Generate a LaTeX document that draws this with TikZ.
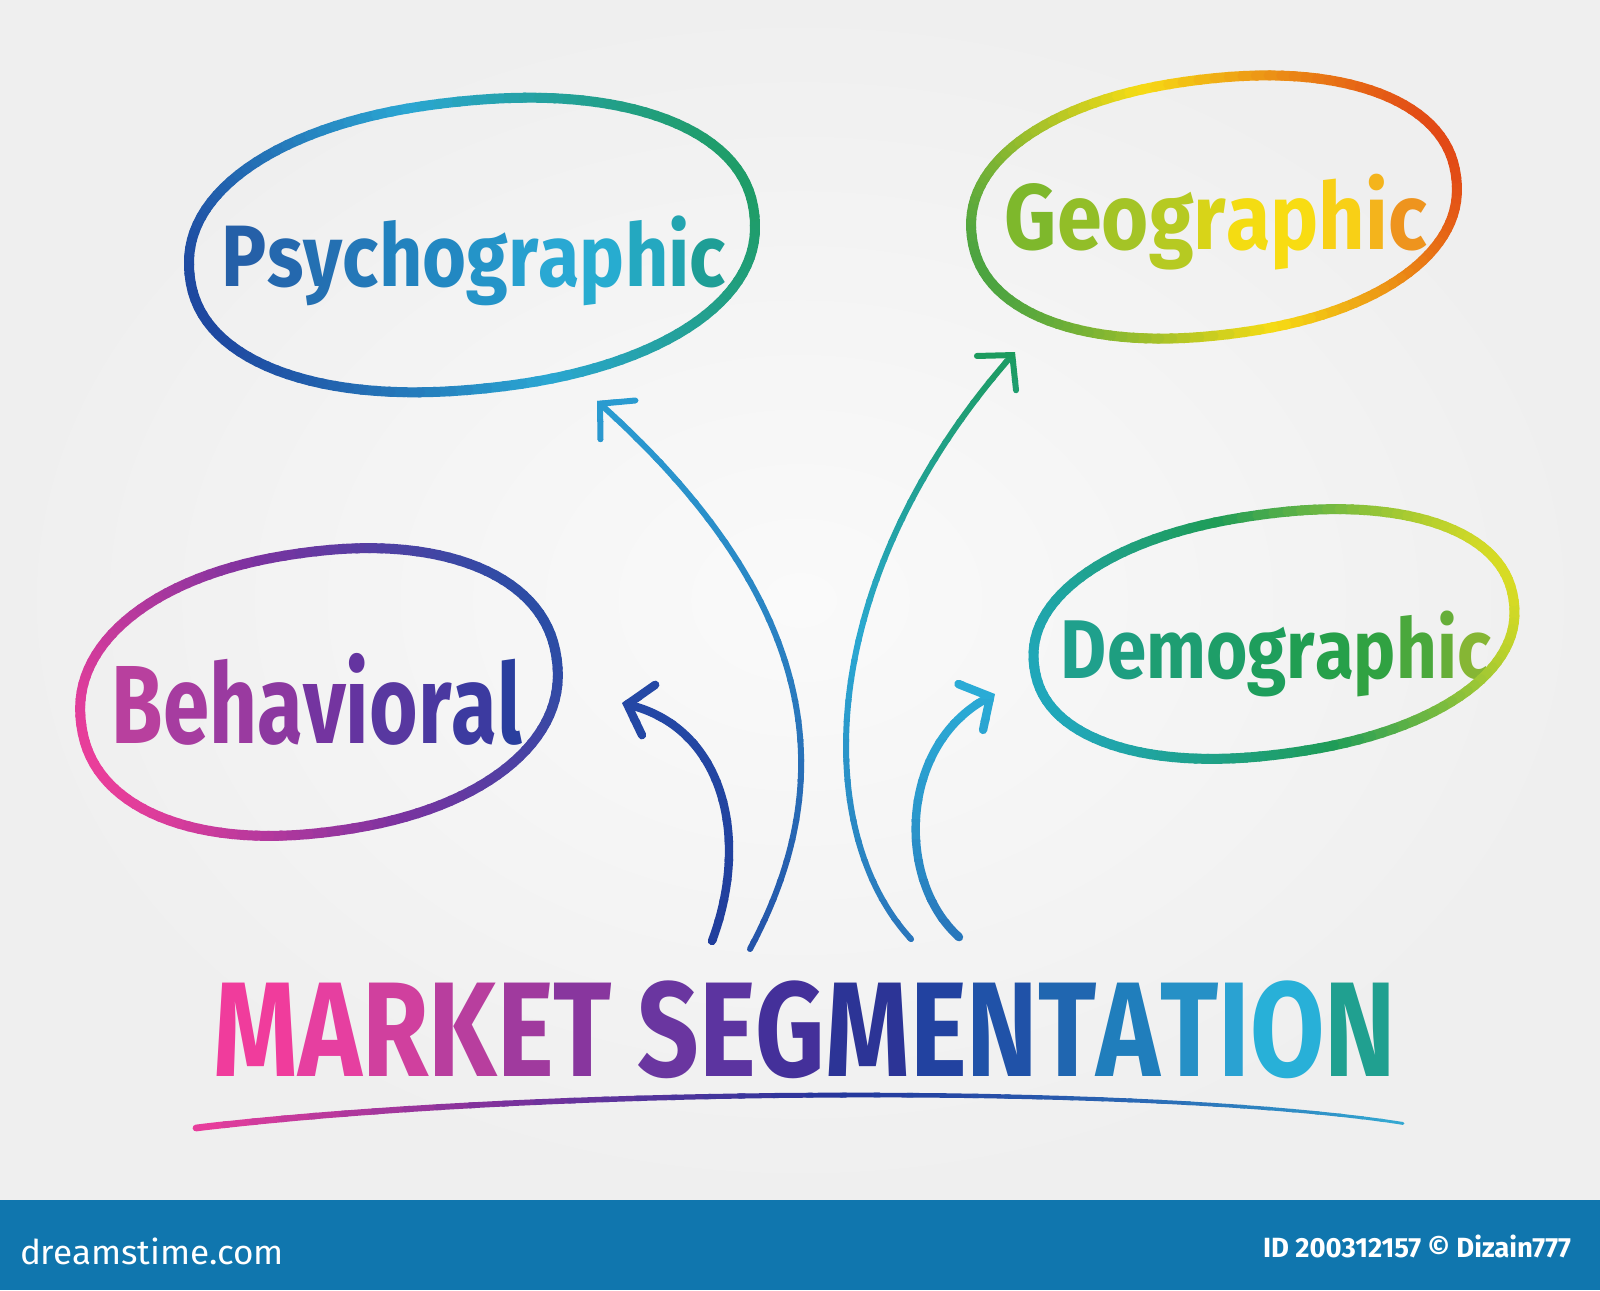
\documentclass[tikz,border=0pt]{standalone}
\usepackage{fontspec}
\setmainfont{Fira Sans}
\usepackage{graphicx}
\usetikzlibrary{arrows.meta}

\definecolor{barblue}{RGB}{16,118,174}
\definecolor{bgout}{HTML}{EFEFEF}
\definecolor{bgin}{HTML}{FAFAFA}
\definecolor{ulA}{HTML}{EC3E9C}
\definecolor{ulB}{HTML}{7C329C}
\definecolor{ulC}{HTML}{24369C}
\definecolor{ulD}{HTML}{2A6CB6}
\definecolor{ulE}{HTML}{34AAD2}

\newcommand\colL[2]{\textcolor[HTML]{#1}{#2}}
\newcommand\setgrad[3]{\definecolor{gA}{HTML}{#1}\definecolor{gB}{HTML}{#2}\definecolor{gC}{HTML}{#3}}

% mix three colours: s in [0,1] -> segc
\newcommand\mixthree[4]{%
  \pgfmathsetmacro\mts{max(0,min(1,#1))}%
  \pgfmathtruncatemacro\mtflag{\mts<0.5 ? 1 : 0}%
  \ifnum\mtflag=1
    \pgfmathsetmacro\mtp{200*\mts}\colorlet{segc}{#3!\mtp!#2}%
  \else
    \pgfmathsetmacro\mtp{200*(\mts-0.5)}\colorlet{segc}{#4!\mtp!#3}%
  \fi}

% slightly squarish ellipse terms
\pgfmathdeclarefunction{sc}{1}{\pgfmathparse{cos(#1)/(abs(cos(#1))+0.001)^0.08}}
\pgfmathdeclarefunction{ss}{1}{\pgfmathparse{sin(#1)/(abs(sin(#1))+0.001)^0.08}}

% gradient ellipse outline: cx cy rx ry phi x0 y0 x1 y1 (colours gA gB gC)
\newcommand\gradellipse[9]{%
  \pgfmathsetmacro\gdx{(#8-#6)/100}%
  \pgfmathsetmacro\gdy{(#9-#7)/100}%
  \pgfmathsetmacro\gdd{\gdx*\gdx+\gdy*\gdy}%
  \foreach \a in {0,3,...,357}{%
    \pgfmathsetmacro\am{\a+1.5}%
    \pgfmathsetmacro\px{#1+#3*sc(\am)*cos(#5)-#4*ss(\am)*sin(#5)}%
    \pgfmathsetmacro\py{#2+#3*sc(\am)*sin(#5)+#4*ss(\am)*cos(#5)}%
    \pgfmathsetmacro\sv{((\px-#6)/100*\gdx+(\py-#7)/100*\gdy)/\gdd}%
    \mixthree{\sv}{gA}{gB}{gC}%
    \draw[segc, ring] plot[domain=\a:\a+3.4, samples=4, variable=\t]
      ({#1+#3*sc(\t)*cos(#5)-#4*ss(\t)*sin(#5)},{#2+#3*sc(\t)*sin(#5)+#4*ss(\t)*cos(#5)});
  }}

% gradient connector by horizontal bands: top y, bottom y, style, path
\newcommand\bandarrow[4]{%
  \pgfmathtruncatemacro\nb{(#2-#1)/20}%
  \foreach \k in {1,...,\nb}{%
    \pgfmathsetmacro\yy{#1+(\k-1)*20}%
    \pgfmathsetmacro\sv{(#2-\yy-10)/(#2-#1)}%
    \mixthree{\sv}{gA}{gB}{gC}%
    \begin{scope}
      \clip (0,\yy-1) rectangle (1600,\yy+21);
      \draw[#3, segc] #4;
    \end{scope}
  }}

\tikzset{
  ring/.style={line width=5pt, line cap=round},
  thinarrow/.style={line width=3pt, line cap=round,
    -{Straight Barb[length=12pt, width=26pt, line cap=round]}},
  thickarrow/.style={line width=4.2pt, line cap=round,
    -{Straight Barb[length=11pt, width=26pt, line cap=round]}},
  lbl/.style={inner sep=0pt, outer sep=0pt},
}

\begin{document}
\begin{tikzpicture}[x=0.5pt, y=-0.5pt]
\useasboundingbox (0,0) rectangle (1600,1290);
% background
\shade[inner color=bgin, outer color=bgout] (0,0) rectangle (1600,1200);
\fill[barblue] (0,1200) rectangle (1600,1290);

% ---- labels ----
\node[lbl] (psy) at (474,261) {\resizebox*{252pt}{45pt}{\bfseries\colL{2560A8}{P}\colL{2468AE}{s}\colL{2470B2}{y}\colL{2478B8}{c}\colL{2282BE}{h}\colL{2288C2}{o}\colL{2494C8}{g}\colL{27A0CF}{r}\colL{29A8D3}{a}\colL{27ACD0}{p}\colL{24A8C0}{h}\colL{22A4B0}{i}\colL{1E9E96}{c}}};
\node[lbl] (geo) at (1216,222) {\resizebox*{211pt}{48pt}{\bfseries\colL{7EB82C}{G}\colL{92BE28}{e}\colL{A4C426}{o}\colL{B6CA22}{g}\colL{D8D418}{r}\colL{F4DC12}{a}\colL{F8DC12}{p}\colL{F8D016}{h}\colL{F4B41C}{i}\colL{EE941E}{c}}};
\node[lbl] (beh) at (317,699) {\resizebox*{205pt}{46pt}{\bfseries\colL{B8409E}{B}\colL{A63CA0}{e}\colL{9A3AA0}{h}\colL{8C38A0}{a}\colL{7434A0}{v}\colL{6434A0}{i}\colL{5838A0}{o}\colL{4A38A0}{r}\colL{3C3AA0}{a}\colL{2A3E9E}{l}}};
\node[lbl] (dem) at (1276,654) {\resizebox*{215pt}{43pt}{\bfseries\colL{1FA08C}{D}\colL{1E9E80}{e}\colL{1E9E72}{m}\colL{1E9E68}{o}\colL{1E9E5C}{g}\colL{209E52}{r}\colL{26A04A}{a}\colL{30A242}{p}\colL{4AA83C}{h}\colL{66AE38}{i}\colL{86B634}{c}}};
\node[lbl] (title) at (805,1030) {\resizebox*{591pt}{49pt}{\bfseries\colL{F03C9C}{M}\colL{E63FA0}{A}\colL{D0409E}{R}\colL{B83E9E}{K}\colL{A03A9E}{E}\colL{88369E}{T} \colL{6A36A0}{S}\colL{5C34A0}{E}\colL{44309A}{G}\colL{2C3496}{M}\colL{2242A0}{E}\colL{2052A8}{N}\colL{2066B0}{T}\colL{207EBC}{A}\colL{2690C6}{T}\colL{2AA2D2}{I}\colL{28B0D8}{O}\colL{20A090}{N}}};

% ---- ellipses ----
\setgrad{1E48A0}{2AA6D2}{1E9C64}
\gradellipse{472}{245}{284}{144}{-6}{230}{370}{730}{130}
\setgrad{2E9A48}{F6DC14}{E03A16}
\gradellipse{1214}{207}{244}{128}{-7}{980}{350}{1450}{100}
\setgrad{EA3E9A}{7A32A0}{2250A6}
\gradellipse{319}{692}{240}{140}{-8}{110}{800}{545}{570}
\setgrad{20A8C4}{1E9C58}{E6E020}
\gradellipse{1274}{634}{242}{120}{-8}{1040}{740}{1500}{520}

% ---- connectors ----
\coordinate (aS) at (750,949); \coordinate (aE) at (597,401);
\coordinate (bS) at (712,941); \coordinate (bE) at (622,703);
\coordinate (cS) at (911,939); \coordinate (cE) at (1015,352);
\coordinate (dS) at (959,937); \coordinate (dE) at (995,694);

\setgrad{2452A8}{2A7EC0}{2A9ED2}
\bandarrow{380}{960}{thinarrow}{(aS) .. controls (830,800) and (840,620) .. (aE)}
\setgrad{203C9C}{2244A0}{2448A6}
\bandarrow{680}{960}{thickarrow}{(bS) .. controls (750,840) and (725,730) .. (bE)}
\setgrad{2A72BA}{2AA8D2}{1A9A52}
\bandarrow{320}{960}{thinarrow}{(cS) .. controls (810,830) and (815,580) .. (cE)}
\setgrad{2870B8}{2A98CC}{2AB0D8}
\bandarrow{660}{960}{thickarrow}{(dS) .. controls (895,880) and (900,745) .. (dE)}

% ---- underline ----
\foreach \k in {0,...,39}{%
  \pgfmathsetmacro\ta{\k/40}%
  \pgfmathsetmacro\tb{(\k+1)/40+0.004}%
  \pgfmathsetmacro\tm{(\k+0.5)/40}%
  \pgfmathsetmacro\lw{3.4-2*\tm}%
  \pgfmathtruncatemacro\half{\tm<0.5 ? 1 : 0}%
  \ifnum\half=1
    \colorlet{gA}{ulA}\colorlet{gB}{ulB}\colorlet{gC}{ulC}\pgfmathsetmacro\sq{2*\tm}%
  \else
    \colorlet{gA}{ulC}\colorlet{gB}{ulD}\colorlet{gC}{ulE}\pgfmathsetmacro\sq{2*\tm-1}%
  \fi
  \mixthree{\sq}{gA}{gB}{gC}%
  \draw[segc, line width=\lw pt, line cap=round] plot[domain=\ta:\tb, samples=5, variable=\u]
    ({(1-\u)^3*196+3*(1-\u)^2*\u*560+3*(1-\u)*\u^2*1150+\u^3*1400},
     {(1-\u)^3*1128+3*(1-\u)^2*\u*1085+3*(1-\u)*\u^2*1085+\u^3*1123});
}

% ---- footer ----
\node[lbl, anchor=west] (ds) at (20,1251) {\resizebox*{132pt}{13.5pt}{\color{white}dreamstime.com}};
\node[lbl, anchor=east] (idt) at (1571,1246) {\resizebox*{154pt}{11.5pt}{\color{white}\bfseries ID 200312157 © Dizain777}};
\end{tikzpicture}
\end{document}
